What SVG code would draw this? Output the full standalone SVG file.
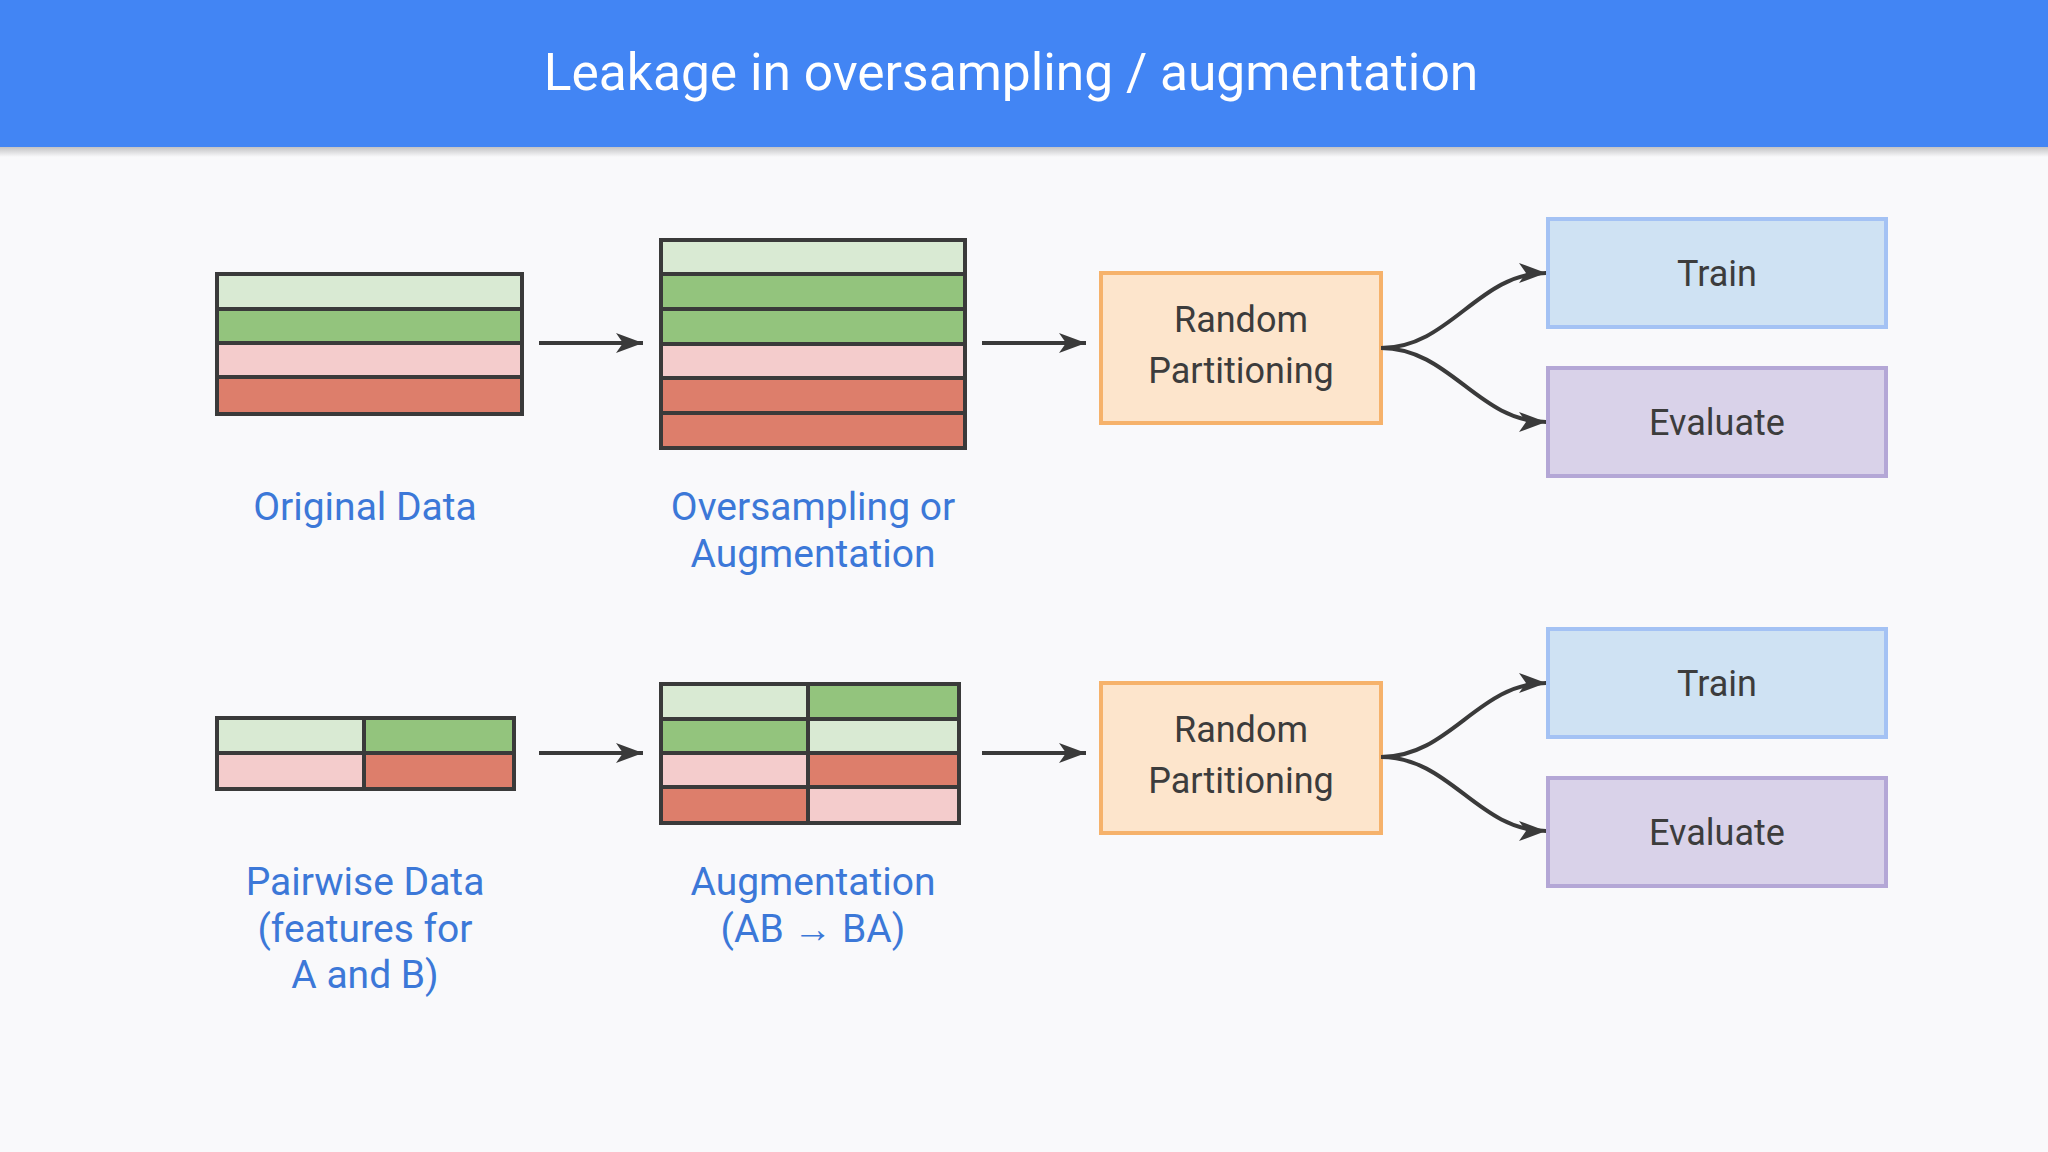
<svg xmlns="http://www.w3.org/2000/svg" width="2048" height="1152" viewBox="0 0 2048 1152">
<defs>
<linearGradient id="shadow" x1="0" y1="0" x2="0" y2="1">
<stop offset="0" stop-color="#000" stop-opacity="0.22"/>
<stop offset="1" stop-color="#000" stop-opacity="0"/>
</linearGradient>
<marker id="arr" viewBox="-28 -11 30 22" refX="0" refY="0" markerWidth="30" markerHeight="22" markerUnits="userSpaceOnUse" orient="auto">
<path d="M0,0 L-27,-10 L-20,0 L-27,10 Z" fill="#3a3a3a"/>
</marker>
<style>
.t{font-family:Roboto,"Liberation Sans",sans-serif;}
.title{font-size:51.5px;fill:#ffffff;}
.lbl{font-size:39px;fill:#3c78d8;text-anchor:middle;}
.nt{font-size:36px;fill:#3c3c3c;text-anchor:middle;}
.grid{stroke:#3a3a3a;stroke-width:4;fill:none;}
.lg{fill:#d9ead3;} .g{fill:#93c47d;} .lr{fill:#f4cccc;} .r{fill:#dd7e6b;}
.part{fill:#fde5cc;stroke:#f6b26b;stroke-width:4;}
.train{fill:#cfe2f3;stroke:#a4c2f4;stroke-width:4;}
.eval{fill:#d9d2e9;stroke:#b4a7d6;stroke-width:4;}
.con{fill:none;stroke:#3a3a3a;stroke-width:4;marker-end:url(#arr);}
</style>
</defs>
<rect width="2048" height="1152" fill="#f9f9fb"/>
<g id="header">
<rect x="0" y="0" width="2048" height="147" fill="#4285f4"/>
<rect x="0" y="147" width="2048" height="10" fill="url(#shadow)"/>
<text class="t title" x="1011" y="90" text-anchor="middle">Leakage in oversampling / augmentation</text>
</g>

<g id="original-data">
<rect class="lg" x="217" y="274" width="305" height="35"/>
<rect class="g" x="217" y="309" width="305" height="34"/>
<rect class="lr" x="217" y="343" width="305" height="34"/>
<rect class="r" x="217" y="377" width="305" height="37"/>
<rect class="grid" x="217" y="274" width="305" height="140"/>
<path class="grid" d="M217,309H522M217,343H522M217,377H522"/>
<text class="t lbl" x="365" y="520">Original Data</text>
</g>

<g id="oversampled-data">
<rect class="lg" x="661" y="240" width="304" height="34"/>
<rect class="g" x="661" y="274" width="304" height="70"/>
<rect class="lr" x="661" y="344" width="304" height="34"/>
<rect class="r" x="661" y="378" width="304" height="70"/>
<rect class="grid" x="661" y="240" width="304" height="208"/>
<path class="grid" d="M661,274H965M661,309H965M661,344H965M661,378H965M661,413H965"/>
<text class="t lbl" x="813" y="520">Oversampling or</text>
<text class="t lbl" x="813" y="567">Augmentation</text>
</g>

<g id="partition-top">
<rect class="part" x="1101" y="273" width="280" height="150"/>
<text class="t nt" x="1241" y="332">Random</text>
<text class="t nt" x="1241" y="383">Partitioning</text>
</g>
<g id="train-top">
<rect class="train" x="1548" y="219" width="338" height="108"/>
<text class="t nt" x="1717" y="286">Train</text>
</g>
<g id="evaluate-top">
<rect class="eval" x="1548" y="368" width="338" height="108"/>
<text class="t nt" x="1717" y="435">Evaluate</text>
</g>

<g id="pairwise-data">
<rect class="lg" x="217" y="718" width="147" height="35"/>
<rect class="g" x="364" y="718" width="150" height="35"/>
<rect class="lr" x="217" y="753" width="147" height="36"/>
<rect class="r" x="364" y="753" width="150" height="36"/>
<rect class="grid" x="217" y="718" width="297" height="71"/>
<path class="grid" d="M217,753H514M364,718V789"/>
<text class="t lbl" x="365" y="895">Pairwise Data</text>
<text class="t lbl" x="365" y="942">(features for</text>
<text class="t lbl" x="365" y="988">A and B)</text>
</g>

<g id="augmented-data">
<rect class="lg" x="661" y="684" width="147" height="35"/>
<rect class="g" x="808" y="684" width="151" height="35"/>
<rect class="g" x="661" y="719" width="147" height="34"/>
<rect class="lg" x="808" y="719" width="151" height="34"/>
<rect class="lr" x="661" y="753" width="147" height="34"/>
<rect class="r" x="808" y="753" width="151" height="34"/>
<rect class="r" x="661" y="787" width="147" height="36"/>
<rect class="lr" x="808" y="787" width="151" height="36"/>
<rect class="grid" x="661" y="684" width="298" height="139"/>
<path class="grid" d="M661,719H959M661,753H959M661,787H959M808,684V823"/>
<text class="t lbl" x="813" y="895">Augmentation</text>
<text class="t lbl" x="813" y="942">(AB → BA)</text>
</g>

<g id="partition-bottom">
<rect class="part" x="1101" y="683" width="280" height="150"/>
<text class="t nt" x="1241" y="742">Random</text>
<text class="t nt" x="1241" y="793">Partitioning</text>
</g>
<g id="train-bottom">
<rect class="train" x="1548" y="629" width="338" height="108"/>
<text class="t nt" x="1717" y="696">Train</text>
</g>
<g id="evaluate-bottom">
<rect class="eval" x="1548" y="778" width="338" height="108"/>
<text class="t nt" x="1717" y="845">Evaluate</text>
</g>

<g id="connectors">
<path class="con" d="M539,343H643"/>
<path class="con" d="M982,343H1086"/>
<path class="con" d="M1381,348C1450,348 1478,273 1546,273"/>
<path class="con" d="M1381,348C1450,348 1478,422 1546,422"/>
<path class="con" d="M539,753H643"/>
<path class="con" d="M982,753H1086"/>
<path class="con" d="M1381,757C1450,757 1478,683 1546,683"/>
<path class="con" d="M1381,757C1450,757 1478,831 1546,831"/>
</g>
</svg>
